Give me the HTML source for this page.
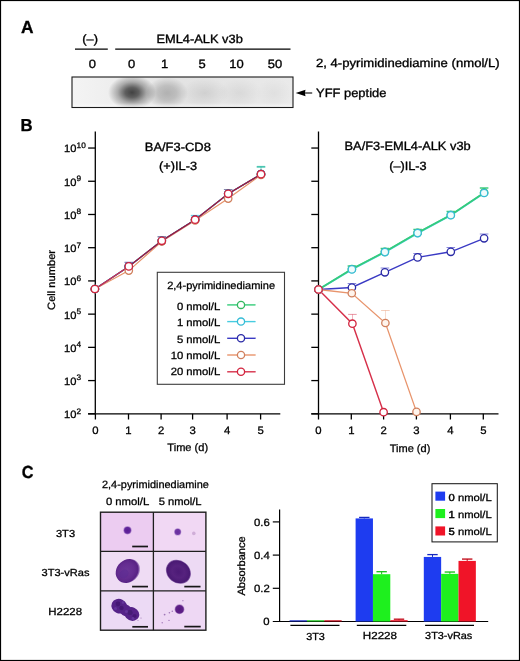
<!DOCTYPE html>
<html><head><meta charset="utf-8"><style>
html,body{margin:0;padding:0;background:#fff;}
svg{display:block;}
</style></head><body>
<svg width="520" height="661" viewBox="0 0 520 661" font-family="Liberation Sans, Arial, Helvetica, sans-serif">
<style>text{stroke:#000;stroke-width:0.28px;text-rendering:geometricPrecision}.big{stroke-width:0.33px}</style>
<rect x="0" y="0" width="520" height="661" fill="#fff"/>
<text class="big" transform="translate(27.20 33.30) scale(0.990 1)" font-size="17.5" font-weight="bold" text-anchor="middle" fill="#000">A</text>
<text class="big" transform="translate(90.10 43.45) scale(1.069 1)" font-size="12" text-anchor="middle" fill="#000">(–)</text>
<text class="big" transform="translate(199.60 43.35) scale(1.070 1)" font-size="12" text-anchor="middle" fill="#000">EML4-ALK v3b</text>
<line x1="75" y1="49.1" x2="107.8" y2="49.1" stroke="#000" stroke-width="1.4"/>
<line x1="115.2" y1="49.1" x2="290.5" y2="49.1" stroke="#000" stroke-width="1.4"/>
<text class="big" transform="translate(92.30 68.00) scale(1.080 1)" font-size="12" text-anchor="middle" fill="#000">0</text>
<text class="big" transform="translate(131.50 68.00) scale(1.080 1)" font-size="12" text-anchor="middle" fill="#000">0</text>
<text class="big" transform="translate(164.50 68.00) scale(1.080 1)" font-size="12" text-anchor="middle" fill="#000">1</text>
<text class="big" transform="translate(202.00 68.00) scale(1.080 1)" font-size="12" text-anchor="middle" fill="#000">5</text>
<text class="big" transform="translate(236.50 68.00) scale(1.080 1)" font-size="12" text-anchor="middle" fill="#000">10</text>
<text class="big" transform="translate(275.00 68.00) scale(1.080 1)" font-size="12" text-anchor="middle" fill="#000">50</text>
<text class="big" transform="translate(407.80 67.05) scale(1.093 1)" font-size="12" text-anchor="middle" fill="#000">2, 4-pyrimidinediamine (nmol/L)</text>
<defs>
<radialGradient id="b1" cx="0.5" cy="0.5" r="0.5"><stop offset="0" stop-color="#000" stop-opacity="0.72"/><stop offset="0.28" stop-color="#000" stop-opacity="0.6"/><stop offset="0.6" stop-color="#000" stop-opacity="0.28"/><stop offset="1" stop-color="#000" stop-opacity="0"/></radialGradient>
<radialGradient id="b2" cx="0.5" cy="0.5" r="0.5"><stop offset="0" stop-color="#000" stop-opacity="0.23"/><stop offset="0.45" stop-color="#000" stop-opacity="0.17"/><stop offset="1" stop-color="#000" stop-opacity="0"/></radialGradient>
<radialGradient id="b3" cx="0.5" cy="0.5" r="0.5"><stop offset="0" stop-color="#000" stop-opacity="0.1"/><stop offset="1" stop-color="#000" stop-opacity="0"/></radialGradient>
<linearGradient id="gelbg" x1="0" y1="0" x2="1" y2="0"><stop offset="0" stop-color="#f4f4f4"/><stop offset="0.12" stop-color="#f0f0f0"/><stop offset="0.5" stop-color="#e3e3e3"/><stop offset="1" stop-color="#eaeaea"/></linearGradient>
<linearGradient id="gelv" x1="0" y1="0" x2="0" y2="1"><stop offset="0" stop-color="#fff" stop-opacity="0"/><stop offset="0.85" stop-color="#fff" stop-opacity="0"/><stop offset="1" stop-color="#fff" stop-opacity="0.6"/></linearGradient>
</defs>
<clipPath id="gclip"><rect x="72" y="77" width="221" height="30.5"/></clipPath><g clip-path="url(#gclip)">
<rect x="72" y="77" width="221" height="30.5" fill="url(#gelbg)"/>
<ellipse cx="167" cy="93" rx="21" ry="16" fill="url(#b2)"/>
<ellipse cx="132" cy="92.5" rx="24" ry="17.5" fill="url(#b1)"/>
<ellipse cx="205" cy="93" rx="24" ry="15" fill="url(#b3)" opacity="0.9"/>
<ellipse cx="240" cy="93" rx="22" ry="15" fill="url(#b3)" opacity="0.6"/>
<ellipse cx="274" cy="93" rx="18" ry="15" fill="url(#b3)" opacity="0.4"/>
<rect x="72" y="77" width="221" height="30.5" fill="url(#gelv)"/></g>
<rect x="72" y="77" width="221" height="30.5" fill="none" stroke="#1a1a1a" stroke-width="1.1"/>
<line x1="304" y1="93" x2="312.2" y2="93" stroke="#222" stroke-width="1.25"/>
<path d="M295.7 93 L305.5 89.8 L304.9 93 L305.5 96.3 Z" fill="#000"/>
<text class="big" transform="translate(351.20 97.00) scale(1.076 1)" font-size="12" text-anchor="middle" fill="#000">YFF peptide</text>
<text class="big" transform="translate(26.50 130.90) scale(0.970 1)" font-size="17.3" font-weight="bold" text-anchor="middle" fill="#000">B</text>
<line x1="95.3" y1="131.5" x2="95.3" y2="413.8" stroke="#000" stroke-width="1.3"/>
<line x1="88.1" y1="413.8" x2="280.3" y2="413.8" stroke="#000" stroke-width="1.3"/>
<line x1="88.1" y1="413.80" x2="95.3" y2="413.80" stroke="#000" stroke-width="1.3"/>
<line x1="88.1" y1="380.58" x2="95.3" y2="380.58" stroke="#000" stroke-width="1.3"/>
<line x1="88.1" y1="347.36" x2="95.3" y2="347.36" stroke="#000" stroke-width="1.3"/>
<line x1="88.1" y1="314.14" x2="95.3" y2="314.14" stroke="#000" stroke-width="1.3"/>
<line x1="88.1" y1="280.92" x2="95.3" y2="280.92" stroke="#000" stroke-width="1.3"/>
<line x1="88.1" y1="247.70" x2="95.3" y2="247.70" stroke="#000" stroke-width="1.3"/>
<line x1="88.1" y1="214.48" x2="95.3" y2="214.48" stroke="#000" stroke-width="1.3"/>
<line x1="88.1" y1="181.26" x2="95.3" y2="181.26" stroke="#000" stroke-width="1.3"/>
<line x1="88.1" y1="148.04" x2="95.3" y2="148.04" stroke="#000" stroke-width="1.3"/>
<line x1="95.40" y1="413.8" x2="95.40" y2="419.5" stroke="#000" stroke-width="1.3"/>
<text transform="translate(95.40 434.20) scale(1.050 1)" font-size="10.8" text-anchor="middle" fill="#000">0</text>
<line x1="128.50" y1="413.8" x2="128.50" y2="419.5" stroke="#000" stroke-width="1.3"/>
<text transform="translate(128.50 434.20) scale(1.050 1)" font-size="10.8" text-anchor="middle" fill="#000">1</text>
<line x1="161.10" y1="413.8" x2="161.10" y2="419.5" stroke="#000" stroke-width="1.3"/>
<text transform="translate(161.10 434.20) scale(1.050 1)" font-size="10.8" text-anchor="middle" fill="#000">2</text>
<line x1="192.60" y1="413.8" x2="192.60" y2="419.5" stroke="#000" stroke-width="1.3"/>
<text transform="translate(192.60 434.20) scale(1.050 1)" font-size="10.8" text-anchor="middle" fill="#000">3</text>
<line x1="227.10" y1="413.8" x2="227.10" y2="419.5" stroke="#000" stroke-width="1.3"/>
<text transform="translate(227.10 434.20) scale(1.050 1)" font-size="10.8" text-anchor="middle" fill="#000">4</text>
<line x1="260.60" y1="413.8" x2="260.60" y2="419.5" stroke="#000" stroke-width="1.3"/>
<text transform="translate(260.60 434.20) scale(1.050 1)" font-size="10.8" text-anchor="middle" fill="#000">5</text>
<text transform="translate(64.1 418.20) scale(1.05 1)" font-size="10.6">10</text>
<text transform="translate(76.6 413.70) scale(1.05 1)" font-size="7.9">2</text>
<text transform="translate(64.1 384.98) scale(1.05 1)" font-size="10.6">10</text>
<text transform="translate(76.6 380.48) scale(1.05 1)" font-size="7.9">3</text>
<text transform="translate(64.1 351.76) scale(1.05 1)" font-size="10.6">10</text>
<text transform="translate(76.6 347.26) scale(1.05 1)" font-size="7.9">4</text>
<text transform="translate(64.1 318.54) scale(1.05 1)" font-size="10.6">10</text>
<text transform="translate(76.6 314.04) scale(1.05 1)" font-size="7.9">5</text>
<text transform="translate(64.1 285.32) scale(1.05 1)" font-size="10.6">10</text>
<text transform="translate(76.6 280.82) scale(1.05 1)" font-size="7.9">6</text>
<text transform="translate(64.1 252.10) scale(1.05 1)" font-size="10.6">10</text>
<text transform="translate(76.6 247.60) scale(1.05 1)" font-size="7.9">7</text>
<text transform="translate(64.1 218.88) scale(1.05 1)" font-size="10.6">10</text>
<text transform="translate(76.6 214.38) scale(1.05 1)" font-size="7.9">8</text>
<text transform="translate(64.1 185.66) scale(1.05 1)" font-size="10.6">10</text>
<text transform="translate(76.6 181.16) scale(1.05 1)" font-size="7.9">9</text>
<text transform="translate(64.1 152.44) scale(1.05 1)" font-size="10.6">10</text>
<text transform="translate(76.6 147.94) scale(1.05 1)" font-size="7.9">10</text>
<text transform="translate(55.0 279.9) rotate(-90) scale(1.05 1)" font-size="10.6" text-anchor="middle">Cell number</text>
<text class="big" transform="translate(177.80 151.05) scale(1.077 1)" font-size="12" text-anchor="middle" fill="#000">BA/F3-CD8</text>
<text class="big" transform="translate(178.10 169.65) scale(1.064 1)" font-size="12" text-anchor="middle" fill="#000">(+)IL-3</text>
<text transform="translate(187.70 451.30) scale(1.023 1)" font-size="10.8" text-anchor="middle" fill="#000">Time (d)</text>
<polyline points="94.90,289.00 128.80,266.40 161.80,240.80 195.10,219.70 228.20,193.80 261.00,174.20" fill="none" stroke="#36cc7a" stroke-width="1.25"/>
<polyline points="94.90,289.00 128.80,266.40 161.80,240.80 195.10,219.70 228.20,193.80 261.00,174.20" fill="none" stroke="#46cce0" stroke-width="1.25"/>
<polyline points="94.90,289.00 128.80,270.60 161.80,241.50 195.10,220.50 228.20,198.60 261.00,174.80" fill="none" stroke="#e8946c" stroke-width="1.25"/>
<polyline points="94.90,289.00 128.80,266.40 161.80,240.80 195.10,219.70 228.20,193.80 261.00,174.20" fill="none" stroke="#3a3ac4" stroke-width="1.25"/>
<polyline points="94.90,289.00 128.80,266.40 161.80,240.80 195.10,219.70 228.20,193.80 261.00,174.20" fill="none" stroke="#d6304a" stroke-width="1.25"/>
<polyline points="128.80,266.40 161.80,240.80 195.10,219.70 228.20,193.80 261.00,174.20" fill="none" stroke="#7c1e40" stroke-width="1.0" opacity="0.9"/>
<line x1="128.80" y1="262.3" x2="128.80" y2="266.40" stroke="#4a3a9a" stroke-width="0.8" opacity="0.7"/>
<line x1="124.50" y1="262.3" x2="133.10" y2="262.3" stroke="#4a3a9a" stroke-width="1.0" opacity="0.8"/>
<line x1="161.80" y1="236.8" x2="161.80" y2="240.80" stroke="#3a2a6a" stroke-width="0.8" opacity="0.7"/>
<line x1="157.50" y1="236.8" x2="166.10" y2="236.8" stroke="#3a2a6a" stroke-width="1.0" opacity="0.8"/>
<line x1="195.10" y1="215.5" x2="195.10" y2="219.70" stroke="#40c8e0" stroke-width="0.8" opacity="0.7"/>
<line x1="190.80" y1="215.5" x2="199.40" y2="215.5" stroke="#40c8e0" stroke-width="1.3" opacity="0.8"/>
<line x1="228.20" y1="189.5" x2="228.20" y2="193.80" stroke="#6a6a9a" stroke-width="0.8" opacity="0.7"/>
<line x1="223.90" y1="189.5" x2="232.50" y2="189.5" stroke="#6a6a9a" stroke-width="1.0" opacity="0.8"/>
<line x1="261.00" y1="166.8" x2="261.00" y2="174.20" stroke="#20b8a0" stroke-width="0.8" opacity="0.7"/>
<line x1="256.70" y1="166.8" x2="265.30" y2="166.8" stroke="#20b8a0" stroke-width="1.8" opacity="0.8"/>
<circle cx="94.90" cy="289.00" r="3.7" fill="#fff" stroke="#34b860" stroke-width="1.3"/>
<circle cx="128.80" cy="266.40" r="3.7" fill="#fff" stroke="#34b860" stroke-width="1.3"/>
<circle cx="161.80" cy="240.80" r="3.7" fill="#fff" stroke="#34b860" stroke-width="1.3"/>
<circle cx="195.10" cy="219.70" r="3.7" fill="#fff" stroke="#34b860" stroke-width="1.3"/>
<circle cx="228.20" cy="193.80" r="3.7" fill="#fff" stroke="#34b860" stroke-width="1.3"/>
<circle cx="261.00" cy="174.20" r="3.7" fill="#fff" stroke="#34b860" stroke-width="1.3"/>
<circle cx="94.90" cy="289.00" r="3.7" fill="#fff" stroke="#36bcd6" stroke-width="1.3"/>
<circle cx="128.80" cy="266.40" r="3.7" fill="#fff" stroke="#36bcd6" stroke-width="1.3"/>
<circle cx="161.80" cy="240.80" r="3.7" fill="#fff" stroke="#36bcd6" stroke-width="1.3"/>
<circle cx="195.10" cy="219.70" r="3.7" fill="#fff" stroke="#36bcd6" stroke-width="1.3"/>
<circle cx="228.20" cy="193.80" r="3.7" fill="#fff" stroke="#36bcd6" stroke-width="1.3"/>
<circle cx="261.00" cy="174.20" r="3.7" fill="#fff" stroke="#36bcd6" stroke-width="1.3"/>
<circle cx="94.90" cy="289.00" r="3.7" fill="#fff" stroke="#2a2aa6" stroke-width="1.3"/>
<circle cx="128.80" cy="266.40" r="3.7" fill="#fff" stroke="#2a2aa6" stroke-width="1.3"/>
<circle cx="161.80" cy="240.80" r="3.7" fill="#fff" stroke="#2a2aa6" stroke-width="1.3"/>
<circle cx="195.10" cy="219.70" r="3.7" fill="#fff" stroke="#2a2aa6" stroke-width="1.3"/>
<circle cx="228.20" cy="193.80" r="3.7" fill="#fff" stroke="#2a2aa6" stroke-width="1.3"/>
<circle cx="261.00" cy="174.20" r="3.7" fill="#fff" stroke="#2a2aa6" stroke-width="1.3"/>
<circle cx="94.90" cy="289.00" r="3.7" fill="#fff" stroke="#d0805e" stroke-width="1.3"/>
<circle cx="128.80" cy="270.60" r="3.7" fill="#fff" stroke="#d0805e" stroke-width="1.3"/>
<circle cx="161.80" cy="241.50" r="3.7" fill="#fff" stroke="#d0805e" stroke-width="1.3"/>
<circle cx="195.10" cy="220.50" r="3.7" fill="#fff" stroke="#d0805e" stroke-width="1.3"/>
<circle cx="228.20" cy="198.60" r="3.7" fill="#fff" stroke="#d0805e" stroke-width="1.3"/>
<circle cx="261.00" cy="174.80" r="3.7" fill="#fff" stroke="#d0805e" stroke-width="1.3"/>
<circle cx="94.90" cy="289.00" r="3.7" fill="#fff" stroke="#d2243e" stroke-width="1.3"/>
<circle cx="128.80" cy="266.40" r="3.7" fill="#fff" stroke="#d2243e" stroke-width="1.3"/>
<circle cx="161.80" cy="240.80" r="3.7" fill="#fff" stroke="#d2243e" stroke-width="1.3"/>
<circle cx="195.10" cy="219.70" r="3.7" fill="#fff" stroke="#d2243e" stroke-width="1.3"/>
<circle cx="228.20" cy="193.80" r="3.7" fill="#fff" stroke="#d2243e" stroke-width="1.3"/>
<circle cx="261.00" cy="174.20" r="3.7" fill="#fff" stroke="#d2243e" stroke-width="1.3"/>
<rect x="157.3" y="272.3" width="127.2" height="112" fill="#fff" stroke="#3c3c3c" stroke-width="1.1"/>
<text transform="translate(221.10 288.80) scale(1.050 1)" font-size="10.5" text-anchor="middle" fill="#000">2,4-pyrimidinediamine</text>
<text transform="translate(220.20 309.90) scale(1.074 1)" font-size="10.5" text-anchor="end" fill="#000">0 nmol/L</text>
<line x1="227.2" y1="304.90" x2="255.6" y2="304.90" stroke="#36cc7a" stroke-width="1.4"/>
<circle cx="241" cy="304.90" r="3.6" fill="#fff" stroke="#34b860" stroke-width="1.3"/>
<text transform="translate(220.20 326.10) scale(1.074 1)" font-size="10.5" text-anchor="end" fill="#000">1 nmol/L</text>
<line x1="227.2" y1="321.60" x2="255.6" y2="321.60" stroke="#46cce0" stroke-width="1.4"/>
<circle cx="241" cy="321.60" r="3.6" fill="#fff" stroke="#36bcd6" stroke-width="1.3"/>
<text transform="translate(220.20 342.50) scale(1.074 1)" font-size="10.5" text-anchor="end" fill="#000">5 nmol/L</text>
<line x1="227.2" y1="338.30" x2="255.6" y2="338.30" stroke="#3a3ac4" stroke-width="1.4"/>
<circle cx="241" cy="338.30" r="3.6" fill="#fff" stroke="#2a2aa6" stroke-width="1.3"/>
<text transform="translate(220.20 359.10) scale(1.074 1)" font-size="10.5" text-anchor="end" fill="#000">10 nmol/L</text>
<line x1="227.2" y1="355.00" x2="255.6" y2="355.00" stroke="#e8946c" stroke-width="1.4"/>
<circle cx="241" cy="355.00" r="3.6" fill="#fff" stroke="#d0805e" stroke-width="1.3"/>
<text transform="translate(220.20 375.20) scale(1.074 1)" font-size="10.5" text-anchor="end" fill="#000">20 nmol/L</text>
<line x1="227.2" y1="371.80" x2="255.6" y2="371.80" stroke="#d6304a" stroke-width="1.4"/>
<circle cx="241" cy="371.80" r="3.6" fill="#fff" stroke="#d2243e" stroke-width="1.3"/>
<line x1="318.5" y1="131.5" x2="318.5" y2="413.8" stroke="#000" stroke-width="1.3"/>
<line x1="311.3" y1="413.8" x2="498.5" y2="413.8" stroke="#000" stroke-width="1.3"/>
<line x1="311.3" y1="413.80" x2="318.5" y2="413.80" stroke="#000" stroke-width="1.3"/>
<line x1="311.3" y1="380.58" x2="318.5" y2="380.58" stroke="#000" stroke-width="1.3"/>
<line x1="311.3" y1="347.36" x2="318.5" y2="347.36" stroke="#000" stroke-width="1.3"/>
<line x1="311.3" y1="314.14" x2="318.5" y2="314.14" stroke="#000" stroke-width="1.3"/>
<line x1="311.3" y1="280.92" x2="318.5" y2="280.92" stroke="#000" stroke-width="1.3"/>
<line x1="311.3" y1="247.70" x2="318.5" y2="247.70" stroke="#000" stroke-width="1.3"/>
<line x1="311.3" y1="214.48" x2="318.5" y2="214.48" stroke="#000" stroke-width="1.3"/>
<line x1="311.3" y1="181.26" x2="318.5" y2="181.26" stroke="#000" stroke-width="1.3"/>
<line x1="311.3" y1="148.04" x2="318.5" y2="148.04" stroke="#000" stroke-width="1.3"/>
<line x1="318.50" y1="413.8" x2="318.50" y2="419.5" stroke="#000" stroke-width="1.3"/>
<text transform="translate(318.50 434.20) scale(1.050 1)" font-size="10.8" text-anchor="middle" fill="#000">0</text>
<line x1="351.30" y1="413.8" x2="351.30" y2="419.5" stroke="#000" stroke-width="1.3"/>
<text transform="translate(351.30 434.20) scale(1.050 1)" font-size="10.8" text-anchor="middle" fill="#000">1</text>
<line x1="383.60" y1="413.8" x2="383.60" y2="419.5" stroke="#000" stroke-width="1.3"/>
<text transform="translate(383.60 434.20) scale(1.050 1)" font-size="10.8" text-anchor="middle" fill="#000">2</text>
<line x1="416.40" y1="413.8" x2="416.40" y2="419.5" stroke="#000" stroke-width="1.3"/>
<text transform="translate(416.40 434.20) scale(1.050 1)" font-size="10.8" text-anchor="middle" fill="#000">3</text>
<line x1="450.40" y1="413.8" x2="450.40" y2="419.5" stroke="#000" stroke-width="1.3"/>
<text transform="translate(450.40 434.20) scale(1.050 1)" font-size="10.8" text-anchor="middle" fill="#000">4</text>
<line x1="483.30" y1="413.8" x2="483.30" y2="419.5" stroke="#000" stroke-width="1.3"/>
<text transform="translate(483.30 434.20) scale(1.050 1)" font-size="10.8" text-anchor="middle" fill="#000">5</text>
<text class="big" transform="translate(407.60 150.45) scale(1.068 1)" font-size="12" text-anchor="middle" fill="#000">BA/F3-EML4-ALK v3b</text>
<text class="big" transform="translate(407.90 169.65) scale(1.061 1)" font-size="12" text-anchor="middle" fill="#000">(–)IL-3</text>
<text transform="translate(410.00 451.75) scale(1.020 1)" font-size="10.8" text-anchor="middle" fill="#000">Time (d)</text>
<polyline points="318.50,289.50 351.90,269.40 384.90,252.10 417.60,233.10 450.80,215.20 484.10,193.00" fill="none" stroke="#46cce0" stroke-width="1.9"/>
<polyline points="318.50,289.50 351.90,269.00 384.90,251.80 417.60,232.80 450.80,215.00 484.10,192.70" fill="none" stroke="#36cc7a" stroke-width="1.7"/>
<polyline points="318.50,289.50 351.90,287.50 384.90,272.30 417.60,257.40 450.80,251.80 484.10,238.30" fill="none" stroke="#3a3ac4" stroke-width="1.4"/>
<polyline points="318.50,289.50 351.80,293.25 385.40,323.00 416.50,411.90" fill="none" stroke="#e8946c" stroke-width="1.3"/>
<polyline points="318.50,289.50 352.40,323.70 383.60,412.20" fill="none" stroke="#d6304a" stroke-width="1.4"/>
<line x1="351.90" y1="266" x2="351.90" y2="269.00" stroke="#36cc7a" stroke-width="0.8" opacity="0.95"/>
<line x1="347.60" y1="266" x2="356.20" y2="266" stroke="#36cc7a" stroke-width="1.5" opacity="0.95"/>
<line x1="384.90" y1="248.5" x2="384.90" y2="251.80" stroke="#36cc7a" stroke-width="0.8" opacity="0.95"/>
<line x1="380.60" y1="248.5" x2="389.20" y2="248.5" stroke="#36cc7a" stroke-width="1.5" opacity="0.95"/>
<line x1="417.60" y1="229.5" x2="417.60" y2="232.80" stroke="#36cc7a" stroke-width="0.8" opacity="0.95"/>
<line x1="413.30" y1="229.5" x2="421.90" y2="229.5" stroke="#36cc7a" stroke-width="1.5" opacity="0.95"/>
<line x1="450.80" y1="211.5" x2="450.80" y2="215.00" stroke="#36cc7a" stroke-width="0.8" opacity="0.95"/>
<line x1="446.50" y1="211.5" x2="455.10" y2="211.5" stroke="#36cc7a" stroke-width="1.5" opacity="0.95"/>
<line x1="484.10" y1="188" x2="484.10" y2="192.70" stroke="#36cc7a" stroke-width="0.8" opacity="0.95"/>
<line x1="479.80" y1="188" x2="488.40" y2="188" stroke="#36cc7a" stroke-width="1.5" opacity="0.95"/>
<line x1="351.90" y1="283.5" x2="351.90" y2="287.50" stroke="#3a3ac4" stroke-width="0.8" opacity="0.6"/>
<line x1="347.60" y1="283.5" x2="356.20" y2="283.5" stroke="#3a3ac4" stroke-width="1" opacity="0.6"/>
<line x1="384.90" y1="268" x2="384.90" y2="272.30" stroke="#3a3ac4" stroke-width="0.8" opacity="0.6"/>
<line x1="380.60" y1="268" x2="389.20" y2="268" stroke="#3a3ac4" stroke-width="1" opacity="0.6"/>
<line x1="417.60" y1="253.5" x2="417.60" y2="257.40" stroke="#3a3ac4" stroke-width="0.8" opacity="0.6"/>
<line x1="413.30" y1="253.5" x2="421.90" y2="253.5" stroke="#3a3ac4" stroke-width="1" opacity="0.6"/>
<line x1="450.80" y1="247.5" x2="450.80" y2="251.80" stroke="#3a3ac4" stroke-width="0.8" opacity="0.6"/>
<line x1="446.50" y1="247.5" x2="455.10" y2="247.5" stroke="#3a3ac4" stroke-width="1" opacity="0.6"/>
<line x1="484.10" y1="234" x2="484.10" y2="238.30" stroke="#3a3ac4" stroke-width="0.8" opacity="0.6"/>
<line x1="479.80" y1="234" x2="488.40" y2="234" stroke="#3a3ac4" stroke-width="1" opacity="0.6"/>
<line x1="385.40" y1="310.5" x2="385.40" y2="323.00" stroke="#e8946c" stroke-width="0.8" opacity="0.45"/>
<line x1="381.10" y1="310.5" x2="389.70" y2="310.5" stroke="#e8946c" stroke-width="1" opacity="0.45"/>
<line x1="352.40" y1="314.4" x2="352.40" y2="323.70" stroke="#d6304a" stroke-width="0.8" opacity="0.5"/>
<line x1="348.10" y1="314.4" x2="356.70" y2="314.4" stroke="#d6304a" stroke-width="1" opacity="0.5"/>
<circle cx="318.50" cy="289.50" r="3.7" fill="#fff" stroke="#34b860" stroke-width="1.3"/>
<circle cx="351.90" cy="269.00" r="3.7" fill="#fff" stroke="#34b860" stroke-width="1.3"/>
<circle cx="384.90" cy="251.80" r="3.7" fill="#fff" stroke="#34b860" stroke-width="1.3"/>
<circle cx="417.60" cy="232.80" r="3.7" fill="#fff" stroke="#34b860" stroke-width="1.3"/>
<circle cx="450.80" cy="215.00" r="3.7" fill="#fff" stroke="#34b860" stroke-width="1.3"/>
<circle cx="484.10" cy="192.70" r="3.7" fill="#fff" stroke="#34b860" stroke-width="1.3"/>
<circle cx="318.50" cy="289.50" r="3.7" fill="#f0fcfc" stroke="#36bcd6" stroke-width="1.3"/>
<circle cx="351.90" cy="269.40" r="3.7" fill="#f0fcfc" stroke="#36bcd6" stroke-width="1.3"/>
<circle cx="384.90" cy="252.10" r="3.7" fill="#f0fcfc" stroke="#36bcd6" stroke-width="1.3"/>
<circle cx="417.60" cy="233.10" r="3.7" fill="#f0fcfc" stroke="#36bcd6" stroke-width="1.3"/>
<circle cx="450.80" cy="215.20" r="3.7" fill="#f0fcfc" stroke="#36bcd6" stroke-width="1.3"/>
<circle cx="484.10" cy="193.00" r="3.7" fill="#f0fcfc" stroke="#36bcd6" stroke-width="1.3"/>
<circle cx="318.50" cy="289.50" r="3.7" fill="#fff" stroke="#2a2aa6" stroke-width="1.3"/>
<circle cx="351.90" cy="287.50" r="3.7" fill="#fff" stroke="#2a2aa6" stroke-width="1.3"/>
<circle cx="384.90" cy="272.30" r="3.7" fill="#fff" stroke="#2a2aa6" stroke-width="1.3"/>
<circle cx="417.60" cy="257.40" r="3.7" fill="#fff" stroke="#2a2aa6" stroke-width="1.3"/>
<circle cx="450.80" cy="251.80" r="3.7" fill="#fff" stroke="#2a2aa6" stroke-width="1.3"/>
<circle cx="484.10" cy="238.30" r="3.7" fill="#fff" stroke="#2a2aa6" stroke-width="1.3"/>
<circle cx="318.50" cy="289.50" r="3.7" fill="#fff4ec" stroke="#d0805e" stroke-width="1.3"/>
<circle cx="351.80" cy="293.25" r="3.7" fill="#fff4ec" stroke="#d0805e" stroke-width="1.3"/>
<circle cx="385.40" cy="323.00" r="3.7" fill="#fff4ec" stroke="#d0805e" stroke-width="1.3"/>
<circle cx="416.50" cy="411.90" r="3.7" fill="#fff4ec" stroke="#d0805e" stroke-width="1.3"/>
<circle cx="318.50" cy="289.50" r="3.7" fill="#fff" stroke="#d2243e" stroke-width="1.3"/>
<circle cx="352.40" cy="323.70" r="3.7" fill="#fff" stroke="#d2243e" stroke-width="1.3"/>
<circle cx="383.60" cy="412.20" r="3.7" fill="#fff" stroke="#d2243e" stroke-width="1.3"/>
<text class="big" transform="translate(27.60 477.50) scale(0.930 1)" font-size="17.5" font-weight="bold" text-anchor="middle" fill="#000">C</text>
<text transform="translate(155.40 487.50) scale(1.040 1)" font-size="10.5" text-anchor="middle" fill="#000">2,4-pyrimidinediamine</text>
<text transform="translate(127.60 505.25) scale(1.078 1)" font-size="10.5" text-anchor="middle" fill="#000">0 nmol/L</text>
<text transform="translate(180.10 505.45) scale(1.065 1)" font-size="10.5" text-anchor="middle" fill="#000">5 nmol/L</text>
<text transform="translate(65.50 536.95) scale(1.088 1)" font-size="10.2" text-anchor="middle" fill="#000">3T3</text>
<text transform="translate(65.50 575.55) scale(1.086 1)" font-size="10.2" text-anchor="middle" fill="#000">3T3-vRas</text>
<text transform="translate(65.20 614.95) scale(1.122 1)" font-size="10.2" text-anchor="middle" fill="#000">H2228</text>
<defs>
<radialGradient id="col1" cx="0.5" cy="0.5" r="0.5"><stop offset="0" stop-color="#581c94"/><stop offset="0.7" stop-color="#62269c"/><stop offset="1" stop-color="#8a5ab8" stop-opacity="0.6"/></radialGradient>
<radialGradient id="col2" cx="0.45" cy="0.45" r="0.55"><stop offset="0" stop-color="#6c3698"/><stop offset="0.6" stop-color="#642c90"/><stop offset="0.9" stop-color="#582284"/><stop offset="1" stop-color="#7a4ca4" stop-opacity="0.7"/></radialGradient>
<radialGradient id="col3" cx="0.5" cy="0.5" r="0.5"><stop offset="0" stop-color="#4c1a76"/><stop offset="0.5" stop-color="#56227e"/><stop offset="0.9" stop-color="#4a1a74"/><stop offset="1" stop-color="#6a3c92" stop-opacity="0.7"/></radialGradient>
<radialGradient id="col4" cx="0.5" cy="0.5" r="0.5"><stop offset="0" stop-color="#4a1a84"/><stop offset="0.8" stop-color="#542690"/><stop offset="1" stop-color="#7a52ac" stop-opacity="0.5"/></radialGradient>
<radialGradient id="col5" cx="0.5" cy="0.5" r="0.5"><stop offset="0" stop-color="#561880"/><stop offset="0.75" stop-color="#5e2088"/><stop offset="1" stop-color="#8a5aa8" stop-opacity="0.5"/></radialGradient>
</defs>
<rect x="100.5" y="512.2" width="52.9" height="39.2" fill="#ecccf1"/>
<rect x="153.4" y="512.2" width="52.5" height="39.2" fill="#f1d8f4"/>
<rect x="100.5" y="551.4" width="52.9" height="39.5" fill="#efdcf4"/>
<rect x="153.4" y="551.4" width="52.5" height="39.5" fill="#eddaf4"/>
<rect x="100.5" y="590.9" width="52.9" height="39.3" fill="#ecdaf5"/>
<rect x="153.4" y="590.9" width="52.5" height="39.3" fill="#eed8f4"/>
<circle cx="127.5" cy="530.3" r="4.1" fill="url(#col1)"/>
<circle cx="177.7" cy="531.9" r="3.6" fill="url(#col1)" opacity="0.9"/>
<circle cx="193.8" cy="533.4" r="1.8" fill="#d0aed8"/>
<ellipse cx="127.8" cy="571" rx="12.9" ry="11.0" fill="url(#col2)" transform="rotate(-42 127.8 571)"/>
<ellipse cx="124" cy="574" rx="5" ry="4" fill="#5a2a92" opacity="0.5" transform="rotate(-42 124 574)"/>
<ellipse cx="178.4" cy="571.8" rx="13.2" ry="11.3" fill="url(#col3)" transform="rotate(38 178.4 571.8)"/>
<filter id="soft" x="-20%" y="-20%" width="140%" height="140%"><feGaussianBlur stdDeviation="0.55"/></filter>
<g filter="url(#soft)">
<ellipse cx="119.3" cy="606.2" rx="8.0" ry="7.2" fill="#542488" transform="rotate(25 119.3 606.2)"/>
<ellipse cx="131.8" cy="614.0" rx="7.6" ry="6.7" fill="#542488" transform="rotate(25 131.8 614)"/>
<ellipse cx="125.5" cy="610.2" rx="7" ry="5.6" fill="#542488" transform="rotate(33 125.5 610.2)"/>
<circle cx="118" cy="604" r="2.4" fill="#3a1268" opacity="0.6"/>
<circle cx="121.5" cy="608" r="2.2" fill="#3a1268" opacity="0.6"/>
<circle cx="130" cy="612.5" r="2.5" fill="#3c1468" opacity="0.6"/>
<circle cx="134.5" cy="616" r="2" fill="#3a1268" opacity="0.6"/>
<circle cx="126.5" cy="611.5" r="1.6" fill="#6e40a8" opacity="0.6"/>
<circle cx="115.5" cy="608.5" r="1.5" fill="#6e40a8" opacity="0.6"/>
<circle cx="133" cy="618.5" r="1.4" fill="#6e40a8" opacity="0.6"/>
<circle cx="123" cy="602.5" r="1.3" fill="#6e40a8" opacity="0.6"/>
</g>
<circle cx="164.6" cy="614.6" r="0.9" fill="#a078b8"/>
<circle cx="169.4" cy="612.7" r="0.8" fill="#a078b8"/>
<circle cx="172.3" cy="611.2" r="0.8" fill="#a078b8"/>
<circle cx="169" cy="620.4" r="0.7" fill="#a078b8"/>
<circle cx="162.2" cy="622.8" r="0.7" fill="#a078b8"/>
<circle cx="182.9" cy="600.7" r="0.6" fill="#a078b8"/>
<circle cx="141" cy="618" r="0.6" fill="#a078b8"/>
<circle cx="138" cy="620.5" r="0.5" fill="#a078b8"/>
<circle cx="179.5" cy="609.3" r="5" fill="url(#col5)"/>
<line x1="132.2" y1="546.5" x2="148.0" y2="546.5" stroke="#161616" stroke-width="1.7"/>
<line x1="132.1" y1="586.6" x2="148.0" y2="586.6" stroke="#161616" stroke-width="1.7"/>
<line x1="184.3" y1="586.6" x2="200.5" y2="586.6" stroke="#161616" stroke-width="1.7"/>
<line x1="132.3" y1="626.8" x2="148.0" y2="626.8" stroke="#161616" stroke-width="1.7"/>
<line x1="184.3" y1="626.6" x2="200.7" y2="626.6" stroke="#161616" stroke-width="1.7"/>
<rect x="100.5" y="512.2" width="105.4" height="118" fill="none" stroke="#1e1e1e" stroke-width="1.4"/>
<line x1="153.4" y1="512.2" x2="153.4" y2="630.2" stroke="#1e1e1e" stroke-width="1.3"/>
<line x1="100.5" y1="551.4" x2="205.9" y2="551.4" stroke="#1e1e1e" stroke-width="1.3"/>
<line x1="100.5" y1="590.9" x2="205.9" y2="590.9" stroke="#1e1e1e" stroke-width="1.3"/>
<line x1="279.6" y1="509.5" x2="279.6" y2="621.5" stroke="#000" stroke-width="1.2"/>
<line x1="272.8" y1="621.5" x2="488.2" y2="621.5" stroke="#000" stroke-width="1.2"/>
<line x1="272.8" y1="588.30" x2="279.6" y2="588.30" stroke="#000" stroke-width="1.2"/>
<text transform="translate(261.80 592.00) scale(1.080 1)" font-size="10.5" text-anchor="middle" fill="#000">0.2</text>
<line x1="272.8" y1="555.10" x2="279.6" y2="555.10" stroke="#000" stroke-width="1.2"/>
<text transform="translate(261.80 558.80) scale(1.080 1)" font-size="10.5" text-anchor="middle" fill="#000">0.4</text>
<line x1="272.8" y1="521.90" x2="279.6" y2="521.90" stroke="#000" stroke-width="1.2"/>
<text transform="translate(261.80 525.60) scale(1.080 1)" font-size="10.5" text-anchor="middle" fill="#000">0.6</text>
<text transform="translate(269.50 625.20) scale(1.080 1)" font-size="10.5" text-anchor="end" fill="#000">0</text>
<text transform="translate(245.3 565.9) rotate(-90) scale(1.05 1)" font-size="10.6" text-anchor="middle">Absorbance</text>
<rect x="289.60" y="620.30" width="17.35" height="1.20" fill="#1428c0"/>
<rect x="306.95" y="620.30" width="17.35" height="1.20" fill="#10c010"/>
<rect x="324.30" y="620.30" width="17.35" height="1.20" fill="#c00010"/>
<rect x="355.60" y="518.41" width="17.35" height="103.09" fill="#1e3cf0"/>
<line x1="364.30" y1="517.42" x2="364.30" y2="518.41" stroke="#1428c0" stroke-width="1"/>
<line x1="359.10" y1="517.42" x2="369.50" y2="517.42" stroke="#1428c0" stroke-width="1.3"/>
<rect x="372.95" y="574.19" width="17.35" height="47.31" fill="#1ef01e"/>
<line x1="381.65" y1="571.70" x2="381.65" y2="574.19" stroke="#10c010" stroke-width="1"/>
<line x1="376.45" y1="571.70" x2="386.85" y2="571.70" stroke="#10c010" stroke-width="1.3"/>
<rect x="390.30" y="620.17" width="17.35" height="1.33" fill="#f01428"/>
<line x1="399.00" y1="619.18" x2="399.00" y2="620.17" stroke="#c00010" stroke-width="1"/>
<line x1="393.80" y1="619.18" x2="404.20" y2="619.18" stroke="#c00010" stroke-width="1.3"/>
<rect x="423.80" y="556.93" width="17.35" height="64.57" fill="#1e3cf0"/>
<line x1="432.50" y1="554.60" x2="432.50" y2="556.93" stroke="#1428c0" stroke-width="1"/>
<line x1="427.30" y1="554.60" x2="437.70" y2="554.60" stroke="#1428c0" stroke-width="1.3"/>
<rect x="441.15" y="573.86" width="17.35" height="47.64" fill="#1ef01e"/>
<line x1="449.85" y1="572.03" x2="449.85" y2="573.86" stroke="#10c010" stroke-width="1"/>
<line x1="444.65" y1="572.03" x2="455.05" y2="572.03" stroke="#10c010" stroke-width="1.3"/>
<rect x="458.50" y="560.91" width="17.35" height="60.59" fill="#f01428"/>
<line x1="467.20" y1="559.08" x2="467.20" y2="560.91" stroke="#c00010" stroke-width="1"/>
<line x1="462.00" y1="559.08" x2="472.40" y2="559.08" stroke="#c00010" stroke-width="1.3"/>
<line x1="290.4" y1="625.3" x2="339.5" y2="625.3" stroke="#000" stroke-width="1.3"/>
<line x1="356.8" y1="625.3" x2="406.3" y2="625.3" stroke="#000" stroke-width="1.3"/>
<line x1="425.1" y1="625.3" x2="474" y2="625.3" stroke="#000" stroke-width="1.3"/>
<text transform="translate(315.50 639.65) scale(1.065 1)" font-size="10.2" text-anchor="middle" fill="#000">3T3</text>
<text transform="translate(379.90 639.25) scale(1.139 1)" font-size="10.2" text-anchor="middle" fill="#000">H2228</text>
<text transform="translate(448.70 638.95) scale(1.068 1)" font-size="10.2" text-anchor="middle" fill="#000">3T3-vRas</text>
<rect x="432" y="483.7" width="65.3" height="58.2" fill="#fff" stroke="#1a1a1a" stroke-width="1.05"/>
<rect x="435.4" y="491.60" width="9.7" height="9.1" fill="#1e3cf0"/>
<text transform="translate(448.6 500.50) scale(1.104 1)" font-size="10.2"><tspan style="stroke-width:0.45px">0</tspan> nmol/L</text>
<rect x="435.4" y="509.00" width="9.7" height="9.1" fill="#1ef01e"/>
<text transform="translate(448.6 517.50) scale(1.104 1)" font-size="10.2"><tspan style="stroke-width:0.45px">1</tspan> nmol/L</text>
<rect x="435.4" y="526.40" width="9.7" height="9.1" fill="#f01428"/>
<text transform="translate(448.6 534.50) scale(1.104 1)" font-size="10.2"><tspan style="stroke-width:0.45px">5</tspan> nmol/L</text>
<rect x="0.5" y="0.5" width="519" height="660" fill="none" stroke="#000" stroke-width="1.2"/>
</svg>
</body></html>
